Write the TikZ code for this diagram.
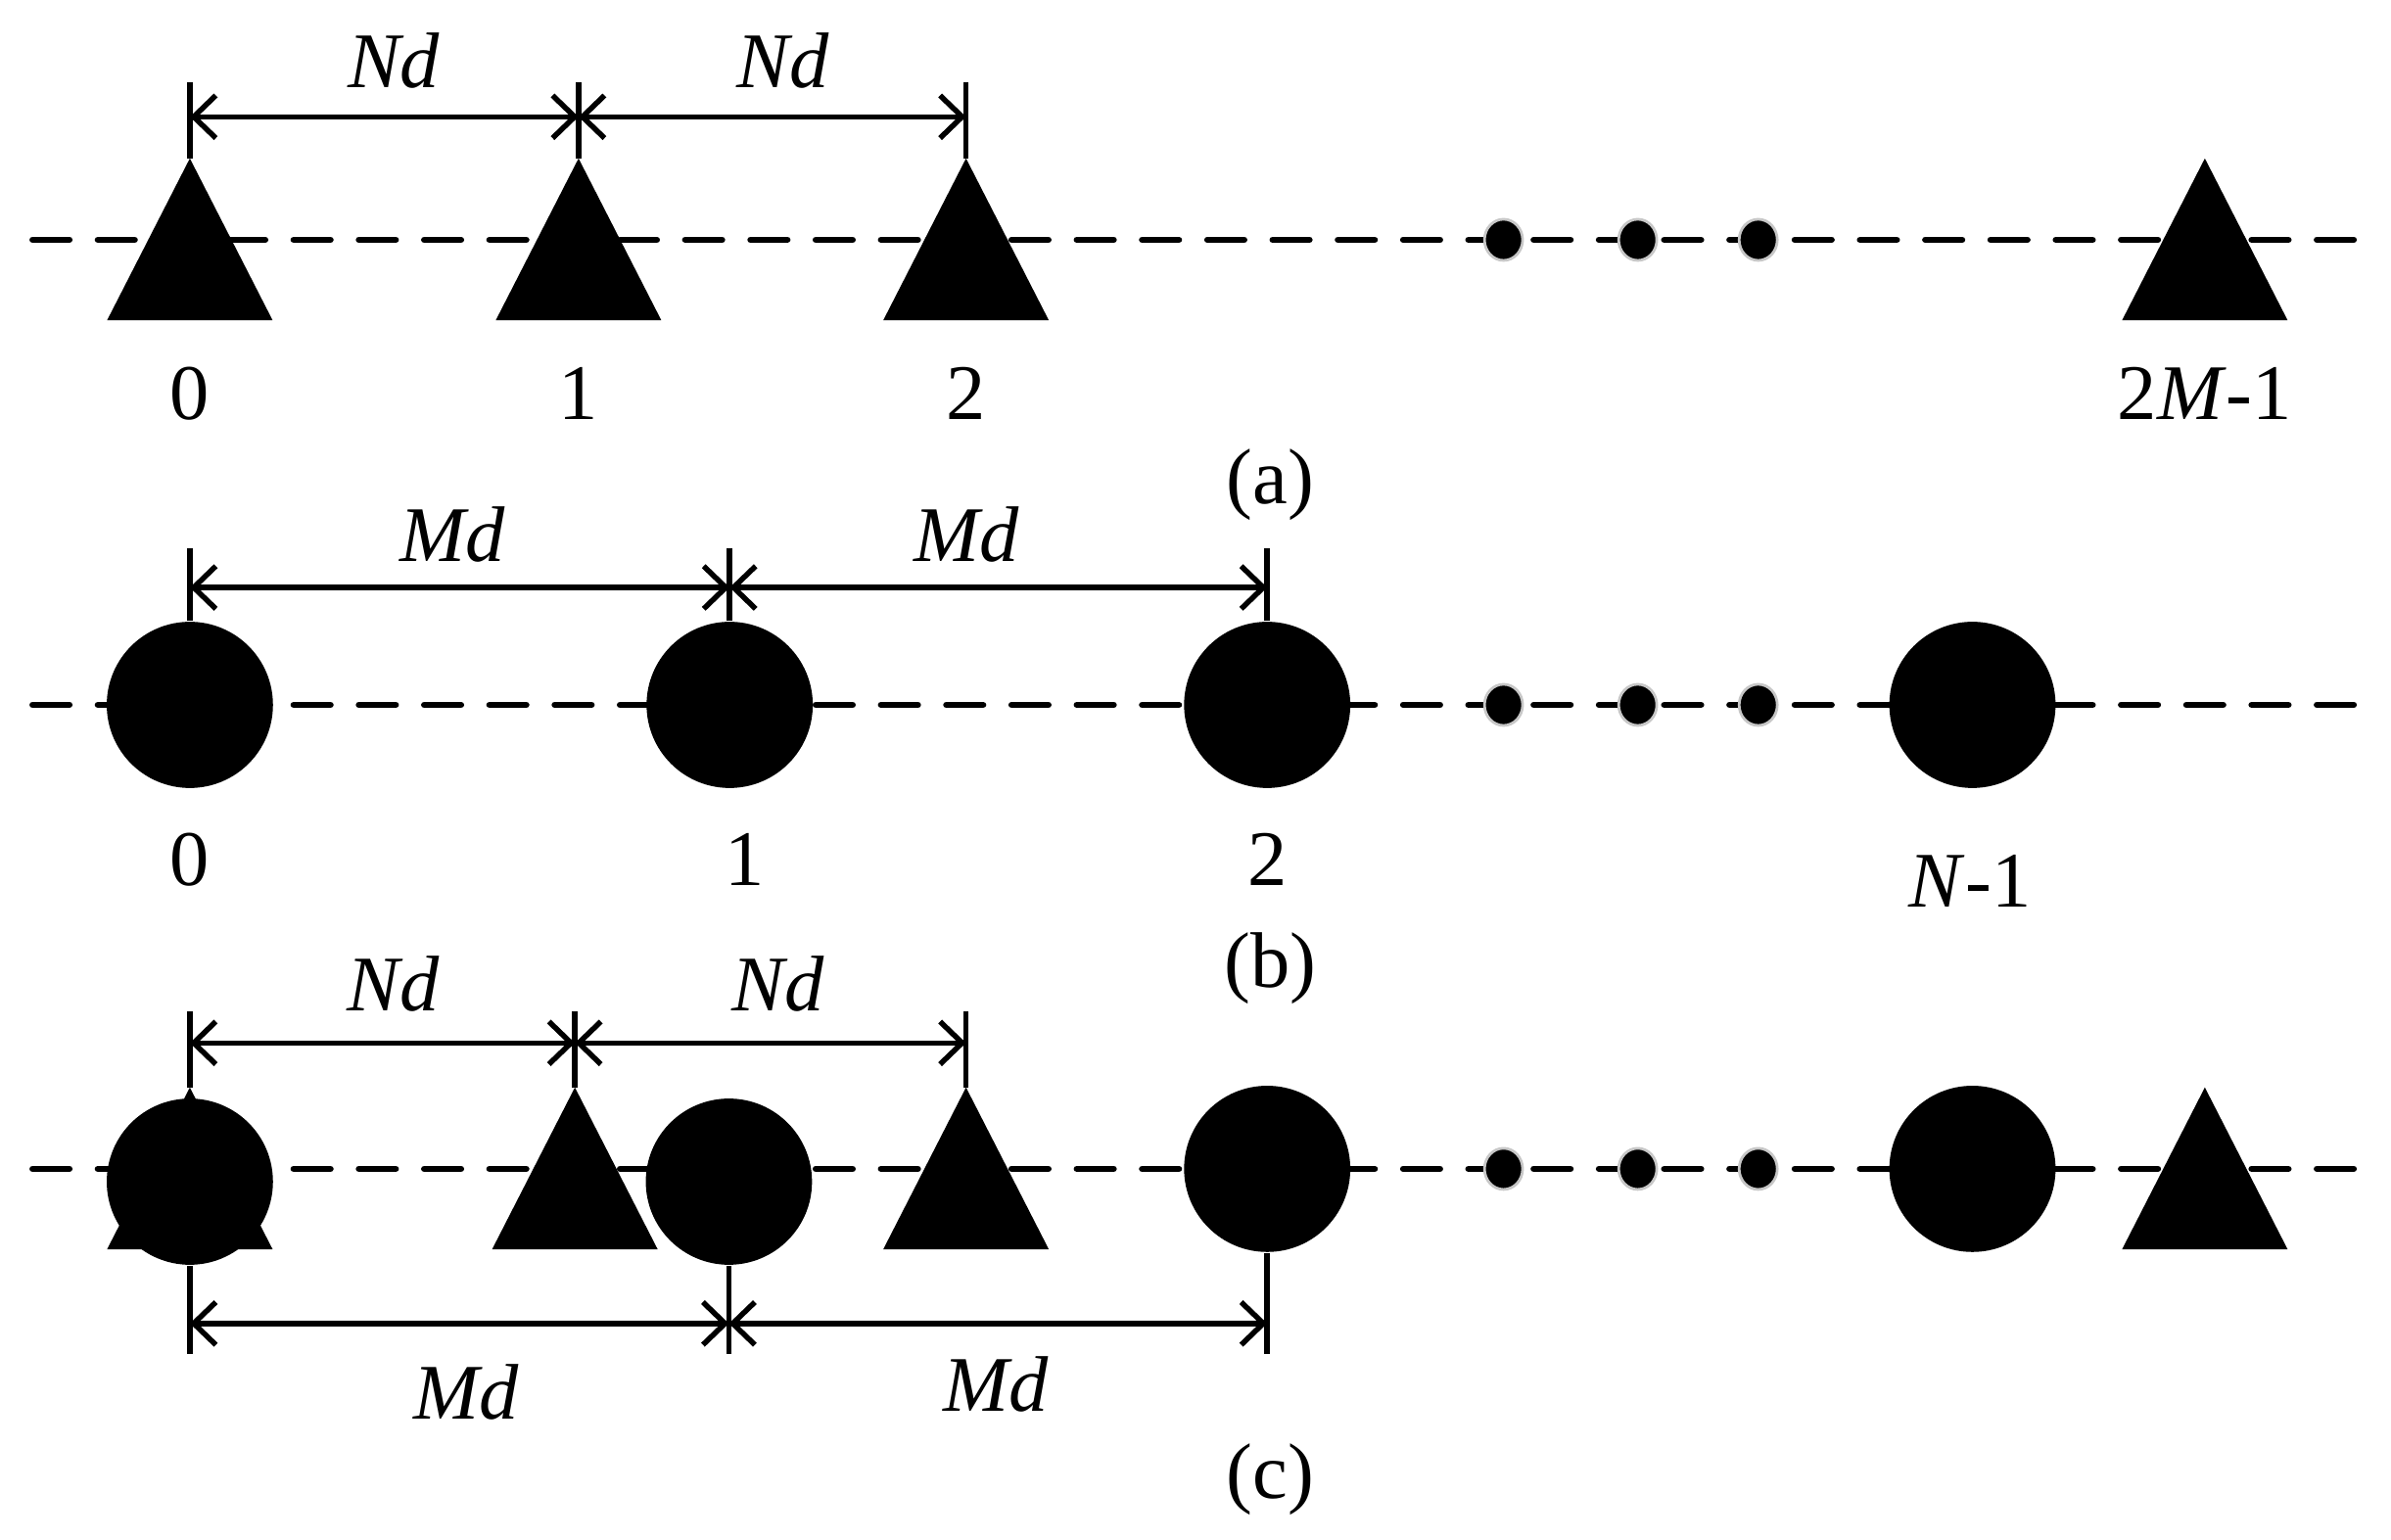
\documentclass[tikz,border=0pt]{standalone}
\usepackage{fontspec}
\setmainfont{Liberation Serif}
\usepackage{tikz}
\usetikzlibrary{arrows.meta}
\usetikzlibrary{shapes.geometric}
\tikzset{node style el/.style={circle, fill=black, inner sep=0mm, minimum size=10.9mm}}
\tikzset{node style dot/.style={ellipse, fill=black, draw=black!22, line width=0.5pt, inner sep=0mm, minimum width=2.5mm, minimum height=2.7mm}}
\tikzset{node style lab/.style={inner sep=0mm, anchor=base, font=\fontsize{14.7}{17}\selectfont}}
\tikzset{line style axis/.style={line width=1.2pt, line cap=round, dash pattern=on 2.41mm off 1.87mm}}
\tikzset{line style tick/.style={line width=1pt}}
\tikzset{line style dim/.style={line width=1pt, {Straight Barb[length=1.45mm,width=2.8mm]}-{Straight Barb[length=1.45mm,width=2.8mm]}}}
\tikzset{pics/tri/.style={code={%
   \fill (0,0.534) -- (-0.543,-0.528) -- (0.543,-0.528) -- cycle;
   \coordinate (-top) at (0,0.534);}}}

\begin{document}
\begin{tikzpicture}
   \useasboundingbox (0,0) rectangle (15.68,10.10);

   % dashed axes, each with its three dots
   \foreach \y/\r in {8.527/a, 5.477/b, 2.434/c} {
      \coordinate (l\r) at (0.214,\y);
      \coordinate (r\r) at (15.44,\y);
      \draw[line style axis] (l\r) -- (r\r);
      \foreach \x [count=\i] in {9.86,10.74,11.53}
         \node[node style dot] (d\r\i) at (\x,\y) {};
   }

   % (a)
   \foreach \x [count=\i from 0] in {1.245,3.794,6.335,14.459}
      \pic (ta\i) at (\x,8.527) {tri};
   \coordinate (ya) at (0,9.334);
   \coordinate (ka) at (0,9.56);
   \foreach \i in {0,1,2}
      \draw[line style tick] (ta\i-top) -- (ta\i-top |- ka);
   \draw[line style dim] (ta0-top |- ya) -- node[node style lab, pos=0.525, yshift=1.9mm] (nda1) {\textit{Nd}} (ta1-top |- ya);
   \draw[line style dim] (ta1-top |- ya) -- node[node style lab, pos=0.528, yshift=1.9mm] (nda2) {\textit{Nd}} (ta2-top |- ya);
   \node[node style lab] (na0) at (1.245,7.35) {0};
   \node[node style lab] (na1) at (3.794,7.35) {1};
   \node[node style lab] (na2) at (6.335,7.35) {2};
   \node[node style lab] (na3) at (14.459,7.35) {2\textit{M}-1};
   \node[node style lab, anchor=center] (capa) at (8.33,6.92) {(a)};

   % (b)
   \foreach \x [count=\i from 0] in {1.245,4.785,8.31,12.935}
      \node[node style el] (cb\i) at (\x,5.477) {};
   \coordinate (yb) at (0,6.247);
   \coordinate (kb) at (0,6.504);
   \foreach \i in {0,1,2}
      \draw[line style tick] (cb\i.north) -- (cb\i.north |- kb);
   \draw[line style dim] (cb0.north |- yb) -- node[node style lab, pos=0.486, yshift=1.73mm] (mdb1) {\textit{Md}} (cb1.north |- yb);
   \draw[line style dim] (cb1.north |- yb) -- node[node style lab, pos=0.441, yshift=1.73mm] (mdb2) {\textit{Md}} (cb2.north |- yb);
   \node[node style lab] (nb0) at (1.245,4.29) {0};
   \node[node style lab] (nb1) at (4.886,4.29) {1};
   \node[node style lab] (nb2) at (8.31,4.29) {2};
   \node[node style lab] (nb3) at (12.92,4.15) {\textit{N}-1};
   \node[node style lab, anchor=center] (capb) at (8.33,3.75) {(b)};

   % (c)
   \foreach \x [count=\i from 0] in {1.245,3.77,6.335,14.459}
      \pic (tc\i) at (\x,2.434) {tri};
   \node[node style el] (cc0) at (1.245,2.35) {};
   \node[node style el] (cc1) at (4.78,2.35) {};
   \node[node style el] (cc2) at (8.31,2.434) {};
   \node[node style el] (cc3) at (12.935,2.434) {};
   \coordinate (yc) at (0,3.26);
   \coordinate (kc) at (0,3.47);
   \foreach \i in {0,1,2}
      \draw[line style tick] (tc\i-top) -- (tc\i-top |- kc);
   \draw[line style dim] (tc0-top |- yc) -- node[node style lab, pos=0.529, yshift=2.1mm] (ndc1) {\textit{Nd}} (tc1-top |- yc);
   \draw[line style dim] (tc1-top |- yc) -- node[node style lab, pos=0.519, yshift=2.1mm] (ndc2) {\textit{Nd}} (tc2-top |- yc);
   \coordinate (yd) at (0,1.42);
   \coordinate (kd) at (0,1.22);
   \foreach \i in {0,1,2}
      \draw[line style tick] (cc\i.south) -- (cc\i.south |- kd);
   \draw[line style dim] (cc0.south |- yd) -- node[node style lab, pos=0.513, yshift=-6.26mm] (mdc1) {\textit{Md}} (cc1.south |- yd);
   \draw[line style dim] (cc1.south |- yd) -- node[node style lab, pos=0.496, yshift=-5.77mm] (mdc2) {\textit{Md}} (cc2.south |- yd);
   \node[node style lab, anchor=center] (capc) at (8.33,0.40) {(c)};
\end{tikzpicture}
\end{document}
